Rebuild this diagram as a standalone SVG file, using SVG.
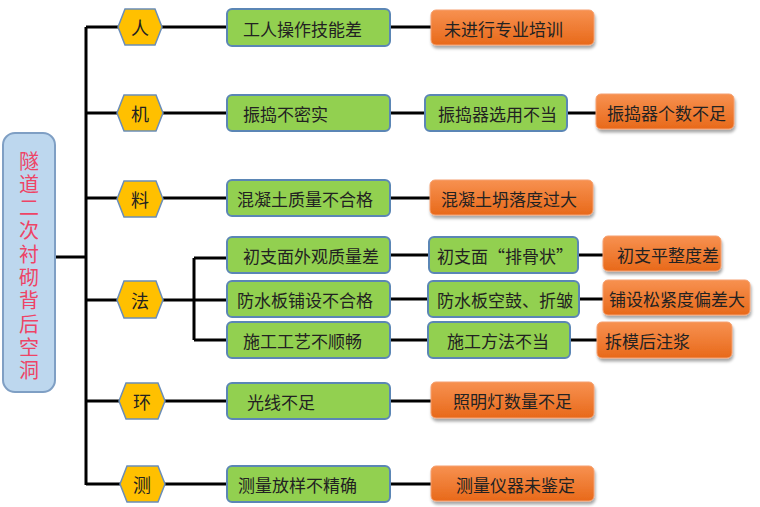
<svg xmlns="http://www.w3.org/2000/svg" width="760" height="507" viewBox="0 0 760 507">
<defs>
<linearGradient id="og" x1="0" y1="0" x2="0" y2="1">
<stop offset="0" stop-color="#F79150"/>
<stop offset="1" stop-color="#E8691A"/>
</linearGradient>
<filter id="sh" x="-10%" y="-20%" width="125%" height="160%">
<feDropShadow dx="1" dy="3" stdDeviation="1.5" flood-color="#000" flood-opacity="0.35"/>
</filter>
<style>
.ln{stroke:#000;stroke-width:3;fill:none}
.hex{fill:#FFC000;stroke:#6A8DB8;stroke-width:1.5}
.g{fill:#92D050;stroke:#5B86B5;stroke-width:2}
.o{fill:url(#og);stroke:#F5A070;stroke-width:1;filter:url(#sh)}
.t{font-family:"Noto Sans CJK SC","Noto Sans",sans-serif;font-size:17px;fill:#222;dominant-baseline:central}
.h{font-family:"Noto Sans CJK SC","Noto Sans",sans-serif;font-size:18px;fill:#222;text-anchor:middle;dominant-baseline:central}
.r{font-family:"Noto Sans CJK SC","Noto Sans",sans-serif;font-size:20px;fill:#EE4466;writing-mode:vertical-rl;letter-spacing:3.3px}
</style>
</defs>
<rect width="760" height="507" fill="#fff"/>
<g id="connectors">
<path class="ln" d="M86 27V485M55 257H86M86 27H118M86 113H117M86 198H117M86 300H117M86 401H119M86 484H120"/>
<path class="ln" d="M162 27H227M163 113H227M163 198H227M165 401H227M165 484H227"/>
<path class="ln" d="M163 300H197M194 258V340M194 258H227M194 340H227M197 300H227"/>
<path class="ln" d="M390 27H431M390 113H425M567 113H596M390 198H430M390 255H429M578 255H603M390 299H428M579 299H603M390 340H428M570 340H597M390 401H431M390 484H431"/>
</g>
<g id="root"><rect x="3" y="133" width="52" height="259" rx="12" fill="#BDD7EE" stroke="#7F9FC4" stroke-width="2"/>
<text class="r" x="29" y="151">隧道二次衬砌背后空洞</text></g>
<g id="hex-ren"><polygon class="hex" points="118,27 125,9 155,9 162,27 155,45 125,45"/><text class="h" x="140" y="27">人</text></g>
<g id="hex-ji"><polygon class="hex" points="117,113 124,95 156,95 163,113 156,131 124,131"/><text class="h" x="140" y="113">机</text></g>
<g id="hex-liao"><polygon class="hex" points="117,199 124,181 156,181 163,199 156,217 124,217"/><text class="h" x="140" y="199">料</text></g>
<g id="hex-fa"><polygon class="hex" points="117,300 124,281 156,281 163,300 156,318 124,318"/><text class="h" x="140" y="300">法</text></g>
<g id="hex-huan"><polygon class="hex" points="119,401 126,383 158,383 165,401 158,419 126,419"/><text class="h" x="142" y="401">环</text></g>
<g id="hex-ce"><polygon class="hex" points="120,484 127,466 158,466 165,484 158,502 127,502"/><text class="h" x="142" y="484">测</text></g>
<g id="g1"><rect class="g" x="227" y="9" width="163" height="37" rx="5"/><text class="t" x="243" y="28">工人操作技能差</text></g>
<g id="g2"><rect class="g" x="227" y="95" width="163" height="36" rx="5"/><text class="t" x="243" y="113">振捣不密实</text></g>
<g id="g3"><rect class="g" x="227" y="180" width="163" height="36" rx="5"/><text class="t" x="237" y="198">混凝土质量不合格</text></g>
<g id="g4"><rect class="g" x="227" y="237" width="163" height="36" rx="5"/><text class="t" x="243" y="255">初支面外观质量差</text></g>
<g id="g5"><rect class="g" x="227" y="281" width="163" height="36" rx="5"/><text class="t" x="237" y="299">防水板铺设不合格</text></g>
<g id="g6"><rect class="g" x="227" y="322" width="163" height="36" rx="5"/><text class="t" x="243" y="340">施工工艺不顺畅</text></g>
<g id="g7"><rect class="g" x="227" y="383" width="163" height="36" rx="5"/><text class="t" x="247" y="401">光线不足</text></g>
<g id="g8"><rect class="g" x="227" y="466" width="163" height="36" rx="5"/><text class="t" x="238" y="484">测量放样不精确</text></g>
<g id="g9"><rect class="g" x="425" y="95" width="142" height="36" rx="5"/><text class="t" x="438" y="113">振捣器选用不当</text></g>
<g id="g10"><rect class="g" x="429" y="237" width="149" height="36" rx="5"/><text class="t" x="437" y="255">初支面“排骨状”</text></g>
<g id="g11"><rect class="g" x="428" y="281" width="151" height="36" rx="5"/><text class="t" x="437" y="299">防水板空鼓、折皱</text></g>
<g id="g12"><rect class="g" x="428" y="322" width="142" height="36" rx="5"/><text class="t" x="447" y="340">施工方法不当</text></g>
<g id="o1"><rect class="o" x="431" y="10" width="163" height="35" rx="5"/><text class="t" x="444" y="28">未进行专业培训</text></g>
<g id="o2"><rect class="o" x="596" y="94" width="138" height="35" rx="5"/><text class="t" x="607" y="112">振捣器个数不足</text></g>
<g id="o3"><rect class="o" x="430" y="180" width="163" height="35" rx="5"/><text class="t" x="441" y="198">混凝土坍落度过大</text></g>
<g id="o4"><rect class="o" x="603" y="236" width="118" height="35" rx="5"/><text class="t" x="617" y="254">初支平整度差</text></g>
<g id="o5"><rect class="o" x="603" y="280" width="147" height="35" rx="5"/><text class="t" x="609" y="298">铺设松紧度偏差大</text></g>
<g id="o6"><rect class="o" x="597" y="322" width="135" height="36" rx="5"/><text class="t" x="605" y="340">拆模后注浆</text></g>
<g id="o7"><rect class="o" x="431" y="382" width="163" height="36" rx="5"/><text class="t" x="453" y="400">照明灯数量不足</text></g>
<g id="o8"><rect class="o" x="431" y="466" width="163" height="35" rx="5"/><text class="t" x="456" y="484">测量仪器未鉴定</text></g>
</svg>
